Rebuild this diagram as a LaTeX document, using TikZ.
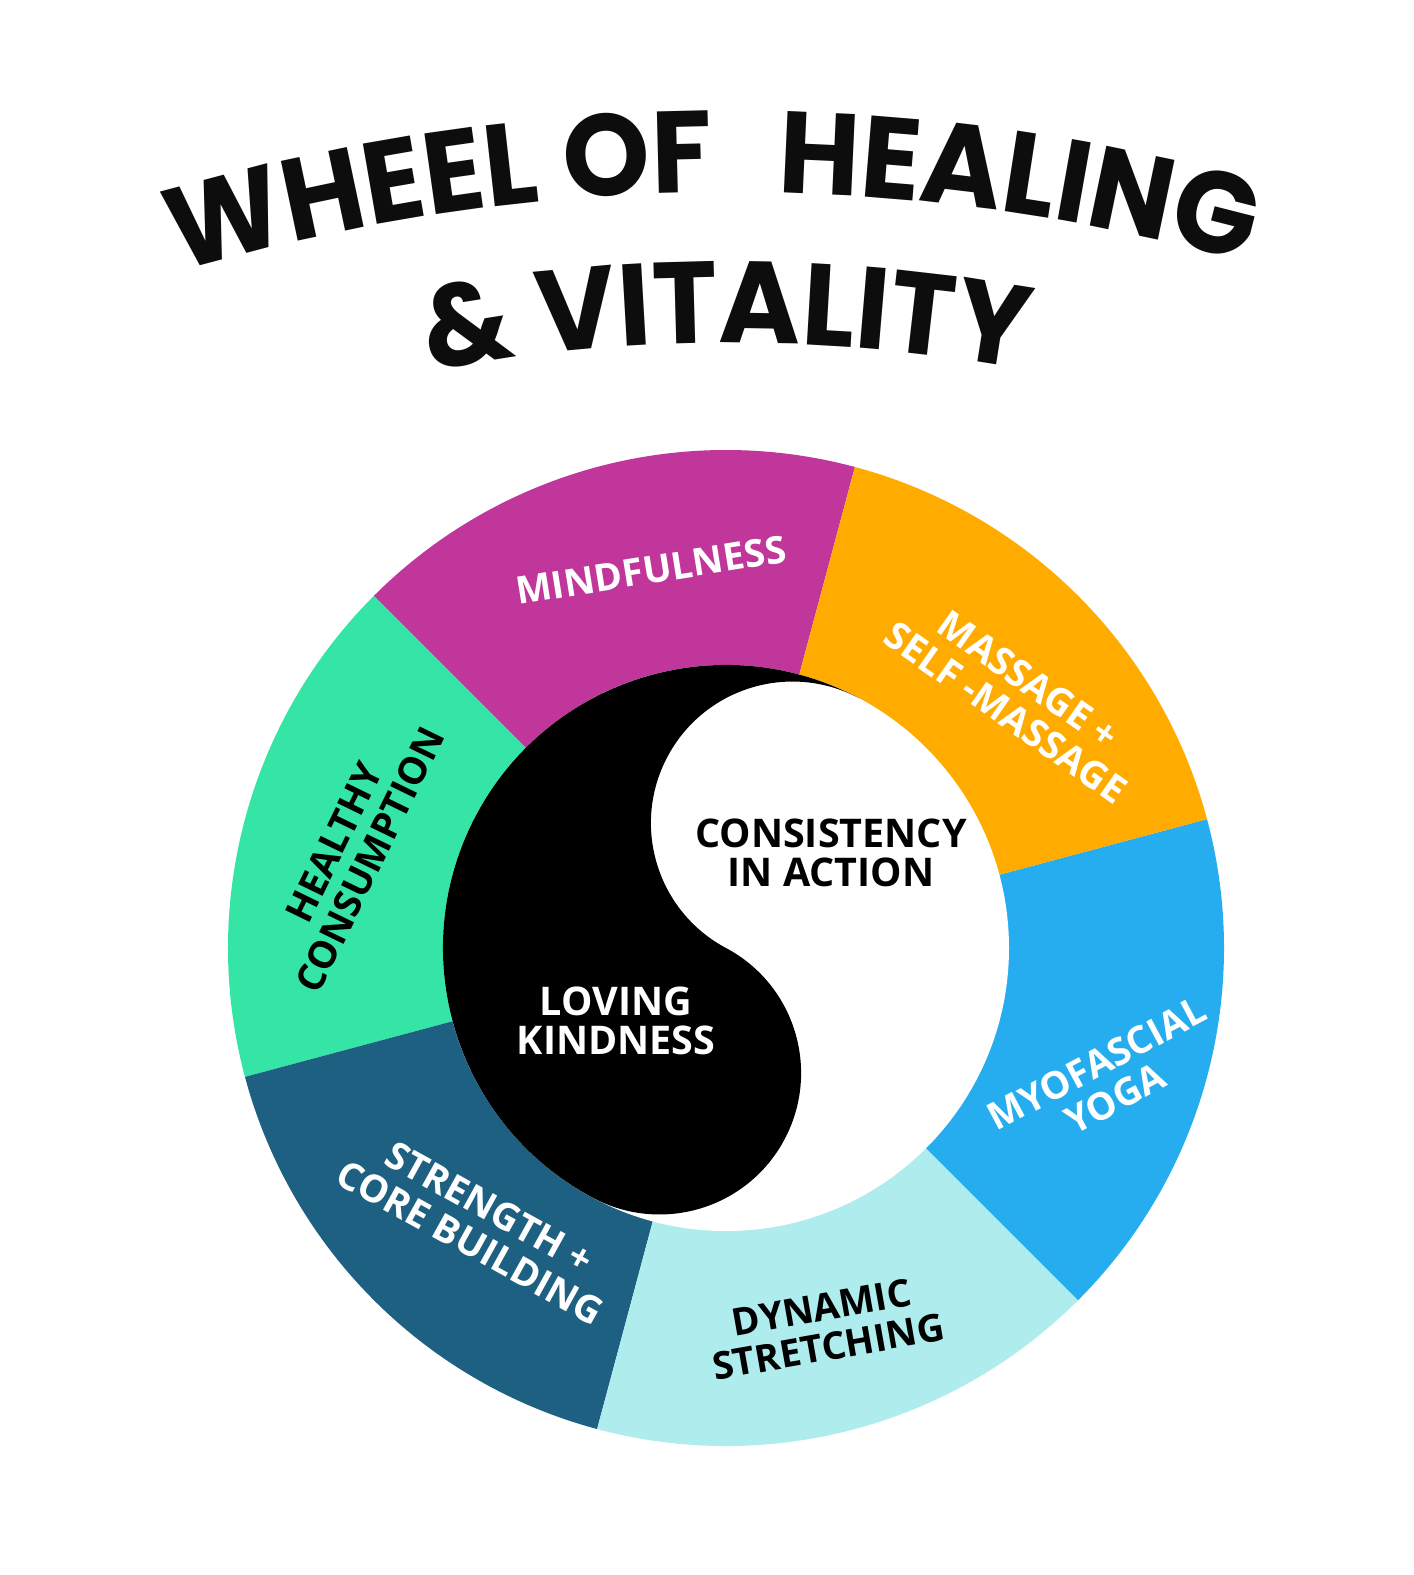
\documentclass[tikz,border=0pt]{standalone}
\usepackage{fontspec}
\usetikzlibrary{decorations.text}
\newfontfamily\opensans{Open Sans}
\newfontfamily\poppins{Poppins}[FakeStretch=0.955]
\definecolor{cmind}{HTML}{C1369A}
\definecolor{cmass}{HTML}{FFAB00}
\definecolor{cmyo}{HTML}{25ADEF}
\definecolor{cdyn}{HTML}{AFECED}
\definecolor{cstr}{HTML}{1D6082}
\definecolor{cheal}{HTML}{34E5A5}
\definecolor{ink}{HTML}{0D0D0D}
\newcommand\titlefont{\poppins\bfseries\fontsize{116}{116}\selectfont}
\newcommand\labfont{\opensans\bfseries\fontsize{38}{40}\selectfont}
\newcommand\cenfont{\opensans\bfseries\fontsize{39.5}{39}\selectfont}
\begin{document}
\begin{tikzpicture}[x=1pt,y=1pt,
  lab/.style={font=\labfont, align=center, inner sep=0pt},
  cen/.style={font=\cenfont, align=center, inner sep=0pt},
  arctext/.style={decorate, decoration={text along path, text={|\titlefont\color{ink}|#1}, text align=center}}]
\useasboundingbox (0,0) rectangle (1414,-1575);
\fill[white] (0,0) rectangle (1414,-1575);
% ---- title ----
\coordinate (T1) at (730,-2123);
\coordinate (T2) at (731,-1983);
\path[arctext=WHEEL] ([shift={(121.1:1931pt)}]T1) arc[start angle=121.1,end angle=81.1,radius=1931pt];
\path[arctext=OF] ([shift={(112.7:1931pt)}]T1) arc[start angle=112.7,end angle=72.7,radius=1931pt];
\path[arctext=HEALING] ([shift={(101.54:1931pt)}]T1) arc[start angle=101.54,end angle=61.54,radius=1931pt];
\node[font=\titlefont, text=ink, anchor=base, rotate=9.05, inner sep=0pt] (amp) at ([shift={(99.05:1640pt)}]T2) {\&};
\path[arctext=VITALITY] ([shift={(108.2:1640pt)}]T2) arc[start angle=108.2,end angle=68.2,radius=1640pt];
% ---- ring ----
\coordinate (O) at (726,-948);
\fill[cmind] (O) -- ++(75:498pt) arc[start angle=75,end angle=135,radius=498pt] -- cycle;
\fill[cheal] (O) -- ++(135:498pt) arc[start angle=135,end angle=195,radius=498pt] -- cycle;
\fill[cstr] (O) -- ++(195:498pt) arc[start angle=195,end angle=255,radius=498pt] -- cycle;
\fill[cdyn] (O) -- ++(255:498pt) arc[start angle=255,end angle=315,radius=498pt] -- cycle;
\fill[cmyo] (O) -- ++(315:498pt) arc[start angle=315,end angle=375,radius=498pt] -- cycle;
\fill[cmass] (O) -- ++(15:498pt) arc[start angle=15,end angle=75,radius=498pt] -- cycle;
% ---- yin yang ----
\fill[white] (O) circle[radius=283pt];
\fill[black] ([shift={(62:283pt)}]O) arc[start angle=62,end angle=242,radius=283pt]
  arc[start angle=242,end angle=422,radius=141.5pt]
  arc[start angle=242,end angle=62,radius=141.5pt] -- cycle;
% ---- labels ----
\node[lab, text=white, rotate=9] (mind) at (651,-570) {MINDFULNESS};
\node[lab, text=white, rotate=-35] (mass) at (1017,-696) {MASSAGE +\\SELF -MASSAGE};
\node[lab, text=white, rotate=28] (myo) at (1106,-1081) {MYOFASCIAL\\YOGA};
\node[lab, text=black, rotate=10] (dyn) at (825,-1327) {DYNAMIC\\STRETCHING};
\node[lab, text=white, rotate=-29] (str) at (480,-1225) {STRENGTH +\\CORE BUILDING};
\node[lab, text=black, rotate=64] (heal) at (352,-851) {HEALTHY\\CONSUMPTION};
\node[cen, text=black] (cons) at (831,-853) {CONSISTENCY\\IN ACTION};
\node[cen, text=white] (love) at (616,-1021) {LOVING\\KINDNESS};
\end{tikzpicture}
\end{document}
